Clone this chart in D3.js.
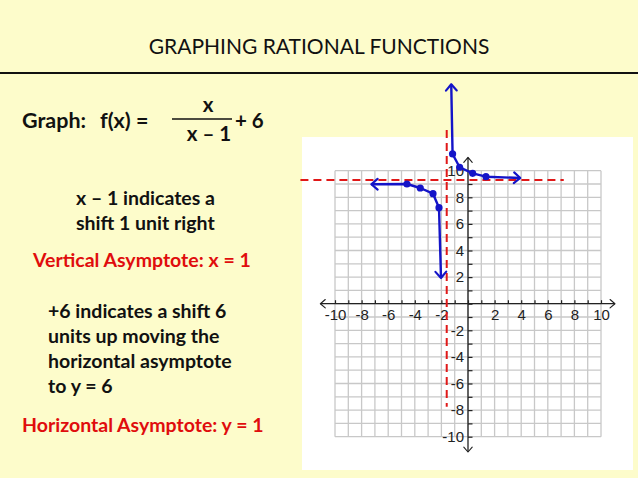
<!DOCTYPE html>
<html>
<head>
<meta charset="utf-8">
<script src="https://cdn.jsdelivr.net/npm/d3@7"></script>
<style>
  body { margin: 0; background: #fdfccb; }
  svg { display: block; }
  .slide-text { font-family: Lato, "Open Sans", sans-serif; font-weight: bold; font-size: 19.5px; fill: #111; white-space: pre; }
  .red { fill: #e00d0d; }
</style>
</head>
<body>
<svg width="638" height="478"></svg>
<script>
// tick labels shown on the graph
const xTicks = [-10, -8, -6, -4, -2, 2, 4, 6, 8, 10];
const yTicks = [-10, -8, -6, -4, -2, 2, 4, 6, 8, 10];

// blue curve, as drawn (first/last point of each branch is an arrow tip)
const upperBranch = [
  { x: -1.26, y: 16.5 },
  { x: -1.16, y: 11.26 },
  { x: -0.63, y: 10.26 },
  { x: 0.35, y: 9.8 },
  { x: 1.35, y: 9.55 },
  { x: 3.93, y: 9.45 }
];
const lowerBranch = [
  { x: -7.27, y: 8.98 },
  { x: -4.59, y: 9.0 },
  { x: -3.59, y: 8.7 },
  { x: -2.63, y: 8.27 },
  { x: -2.18, y: 7.22 },
  { x: -2.03, y: 1.93 }
];

// dashed asymptote lines, as drawn
const hAsymptote = { y: 9.3, x0: -12.6, x1: 7.2 };
const vAsymptote = { x: -1.6, y0: 13.06, y1: -7.74 };

const svg = d3.select("svg");

// header
svg.append("text")
  .attr("x", 319).attr("y", 54)
  .attr("text-anchor", "middle")
  .style("font-family", "Lato, sans-serif")
  .style("font-size", "21px")
  .style("fill", "#111")
  .text("GRAPHING RATIONAL FUNCTIONS");

svg.append("line")
  .attr("x1", 0).attr("x2", 638)
  .attr("y1", 73).attr("y2", 73)
  .attr("stroke", "#111").attr("stroke-width", 2);

// equation
const eqParts = [
  { x: 22, y: 128, t: "Graph:", anchor: "start", size: 21.5 },
  { x: 100, y: 128, t: "f(x) =", anchor: "start", size: 21.5 },
  { x: 208, y: 112, t: "x", anchor: "middle", size: 20.5 },
  { x: 209, y: 141, t: "x – 1", anchor: "middle", size: 20.5 },
  { x: 235, y: 128, t: "+ 6", anchor: "start", size: 20.5 }
];
svg.selectAll(".eq").data(eqParts).join("text")
  .attr("class", "eq slide-text")
  .attr("x", d => d.x).attr("y", d => d.y)
  .attr("text-anchor", d => d.anchor)
  .style("font-size", d => d.size + "px")
  .text(d => d.t);
svg.append("line")
  .attr("x1", 172).attr("x2", 232).attr("y1", 119).attr("y2", 119)
  .attr("stroke", "#111").attr("stroke-width", 1.5);

// notes
const notes = [
  { x: 76, y: 205, t: "x – 1 indicates a" },
  { x: 76, y: 230, t: "shift 1 unit right" },
  { x: 33, y: 267, t: "Vertical Asymptote: x = 1", red: true },
  { x: 48, y: 318, t: "+6 indicates a shift 6" },
  { x: 48, y: 343, t: "units up moving the" },
  { x: 48, y: 368, t: "horizontal asymptote" },
  { x: 48, y: 393, t: "to y = 6" },
  { x: 22, y: 432, t: "Horizontal Asymptote: y = 1", red: true }
];
svg.selectAll(".note").data(notes).join("text")
  .attr("class", d => "note slide-text" + (d.red ? " red" : ""))
  .attr("x", d => d.x).attr("y", d => d.y)
  .text(d => d.t);

// graph panel
svg.append("rect")
  .attr("x", 302).attr("y", 137).attr("width", 331).attr("height", 333)
  .attr("fill", "#fff");

const x = d3.scaleLinear().domain([-10, 10]).range([335, 601]);
const y = d3.scaleLinear().domain([-10, 10]).range([436.7, 170.7]);

const g = svg.append("g");

// grid
g.selectAll(".vgrid").data(x.ticks(20)).join("line")
  .attr("x1", d => x(d)).attr("x2", d => x(d))
  .attr("y1", y(-10)).attr("y2", y(10))
  .attr("stroke", "#c8c8c8").attr("stroke-width", 1.3);
g.selectAll(".hgrid").data(y.ticks(20)).join("line")
  .attr("y1", d => y(d)).attr("y2", d => y(d))
  .attr("x1", x(-10)).attr("x2", x(10))
  .attr("stroke", "#c8c8c8").attr("stroke-width", 1.3);

const defs = svg.append("defs");
function arrowMarker(id, color, size, sw) {
  defs.append("marker")
    .attr("id", id)
    .attr("viewBox", "-10 -10 20 20")
    .attr("markerUnits", "userSpaceOnUse")
    .attr("markerWidth", size).attr("markerHeight", size)
    .attr("refX", 0).attr("refY", 0)
    .attr("orient", "auto-start-reverse")
    .append("path")
    .attr("d", "M-7,-6L0,0L-7,6")
    .attr("fill", "none")
    .attr("stroke", color)
    .attr("stroke-width", sw)
    .attr("stroke-linecap", "round")
    .attr("stroke-linejoin", "round");
}
arrowMarker("axis-arrow", "#222", 14, 1.6);
arrowMarker("blue-arrow", "#1414c8", 18, 2.4);

// axes
const xAxis = d3.axisBottom(x)
  .tickValues(x.ticks(20))
  .tickFormat(d => xTicks.includes(d) ? d : "")
  .tickSizeInner(-3.5).tickSizeOuter(0).tickPadding(4);
const yAxis = d3.axisLeft(y)
  .tickValues(y.ticks(20))
  .tickFormat(d => yTicks.includes(d) ? d : "")
  .tickSizeInner(-4.5).tickSizeOuter(0).tickPadding(4);

const gx = g.append("g").attr("transform", `translate(0,${y(0)})`).call(xAxis);
const gy = g.append("g").attr("transform", `translate(${x(0)},0)`).call(yAxis);
[gx, gy].forEach(a => {
  a.attr("font-size", 15).attr("font-family", "'Liberation Sans', Arial, sans-serif");
  a.select(".domain").remove();
  a.selectAll(".tick line").attr("stroke", "#222").attr("stroke-width", 1.2);
  a.selectAll(".tick text").attr("fill", "#222");
});
gx.selectAll(".tick text").attr("dy", "0.8em");

g.append("line")
  .attr("x1", x(-11.1)).attr("x2", x(11.05))
  .attr("y1", y(0)).attr("y2", y(0))
  .attr("stroke", "#222").attr("stroke-width", 1.3)
  .attr("marker-start", "url(#axis-arrow)")
  .attr("marker-end", "url(#axis-arrow)");
g.append("line")
  .attr("x1", x(0)).attr("x2", x(0))
  .attr("y1", y(11.0)).attr("y2", y(-11.15))
  .attr("stroke", "#222").attr("stroke-width", 1.3)
  .attr("marker-start", "url(#axis-arrow)")
  .attr("marker-end", "url(#axis-arrow)");

// asymptotes
svg.append("line")
  .attr("x1", x(hAsymptote.x0)).attr("x2", x(hAsymptote.x1))
  .attr("y1", y(hAsymptote.y)).attr("y2", y(hAsymptote.y))
  .attr("stroke", "#e01818").attr("stroke-width", 2)
  .attr("stroke-dasharray", "8,5");
svg.append("line")
  .attr("x1", x(vAsymptote.x)).attr("x2", x(vAsymptote.x))
  .attr("y1", y(vAsymptote.y0)).attr("y2", y(vAsymptote.y1))
  .attr("stroke", "#e01818").attr("stroke-width", 2)
  .attr("stroke-dasharray", "8,5");

// curve
const line = d3.line().x(d => x(d.x)).y(d => y(d.y));
svg.selectAll(".branch").data([upperBranch, lowerBranch]).join("path")
  .attr("class", "branch")
  .attr("d", line)
  .attr("fill", "none")
  .attr("stroke", "#1414c8")
  .attr("stroke-width", 2.4)
  .attr("stroke-linejoin", "round")
  .attr("marker-start", "url(#blue-arrow)")
  .attr("marker-end", "url(#blue-arrow)");

const dots = [...upperBranch.slice(1, -1), ...lowerBranch.slice(1, -1)];
svg.selectAll(".dot").data(dots).join("circle")
  .attr("class", "dot")
  .attr("cx", d => x(d.x)).attr("cy", d => y(d.y))
  .attr("r", 3.6)
  .attr("fill", "#1414c8");
</script>
</body>
</html>
